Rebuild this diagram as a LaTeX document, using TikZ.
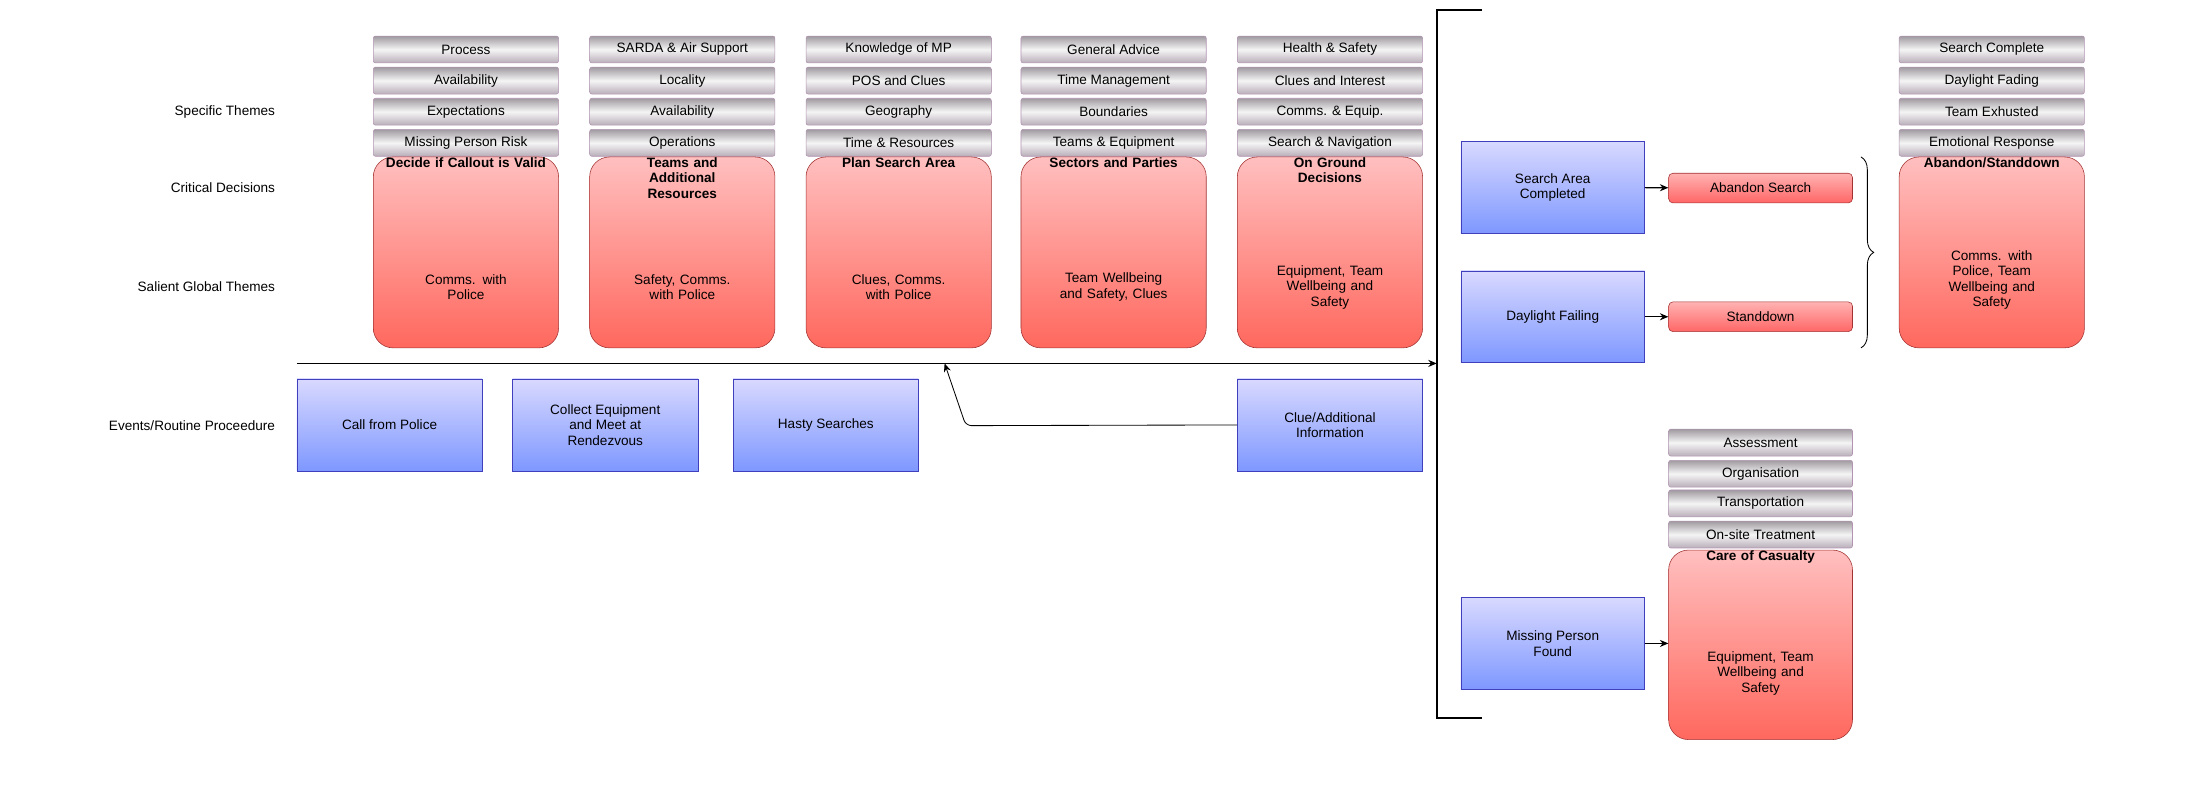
\documentclass[tikz,border=0pt]{standalone}
\usepackage{fontspec}
\setmainfont{Liberation Sans}
\usetikzlibrary{decorations.pathreplacing,arrows.meta}
\begin{document}
\begin{tikzpicture}[x=1pt,y=-1pt,
  font=\fontsize{9.6}{11}\selectfont,
  theme/.style={draw=gray!60!violet!60, rounded corners=1.5pt, minimum width=131pt, minimum height=19pt, inner sep=0pt,
    top color=white!85!violet!30!gray, bottom color=violet!15!gray!55, middle color=white!92!gray, shading angle=0},
  dec/.style={draw=red!55!black!80, rounded corners=14pt, minimum width=131pt, minimum height=135pt, inner sep=0pt,
    top color=red!25!white, bottom color=red!60!white!92!orange},
  sdec/.style={draw=red!55!black!80, rounded corners=3pt, minimum width=130pt, minimum height=21pt, inner sep=0pt,
    top color=red!30!white, bottom color=red!60!white},
  ev/.style={draw=blue!50!gray, minimum width=131pt, minimum height=65pt, inner sep=0pt, align=center,
    top color=blue!15!white, bottom color=blue!45!white!90!cyan},
  lbl/.style={anchor=east},
  ttl/.style={font=\fontsize{9.6}{11}\selectfont\bfseries, align=center, text width=128pt, anchor=north},
  bod/.style={align=center, text width=120pt},
  arr/.style={-{Stealth[length=6pt,width=5pt]}, line width=0.8pt}]
\useasboundingbox (0,0) rectangle (1560,564);
% left labels
\node[lbl] (l1) at (198,79) {Specific Themes};
\node[lbl] (l2) at (198,133) {Critical Decisions};
\node[lbl] (l3) at (198,203) {Salient Global Themes};
\node[lbl] (l4) at (198,301) {Events/Routine Proceedure};
% columns
\foreach \i/\x/\a/\b/\c/\d/\t/\s in {
 1/329.5/Process/Availability/Expectations/Missing Person Risk/{Decide if Callout is Valid}/{Comms. with\\Police},
 2/482.5/SARDA \& Air Support/Locality/Availability/Operations/{Teams and\\Additional\\Resources}/{Safety, Comms.\\with Police},
 3/635.5/Knowledge of MP/POS and Clues/Geography/Time \& Resources/{Plan Search Area}/{Clues, Comms.\\with Police},
 4/787.5/General Advice/Time Management/Boundaries/Teams \& Equipment/{Sectors and Parties}/{Team Wellbeing\\and Safety, Clues},
 5/940.5/Health \& Safety/Clues and Interest/Comms. \& Equip./Search \& Navigation/{On Ground\\Decisions}/{Equipment, Team\\Wellbeing and\\Safety}}{
 \node[theme] (t\i a) at (\x,35) {\a};
 \node[theme] (t\i b) at (\x,57) {\b};
 \node[theme] (t\i c) at (\x,79) {\c};
 \node[theme] (t\i d) at (\x,101) {\d};
 \node[dec] (d\i) at (\x,178.5) {};
 \node[ttl] (d\i t) at ([yshift=3pt]d\i.north) {\t};
 \node[bod] (d\i s) at (\x,203) {\s};
}
% events
\node[ev] (e1) at (275.5,300.5) {Call from Police};
\node[ev] (e2) at (428,300.5) {Collect Equipment\\and Meet at\\Rendezvous};
\node[ev] (e3) at (584,300.5) {Hasty Searches};
\node[ev] (e4) at (940.5,300.5) {Clue/Additional\\Information};
% timeline
\coordinate (ts) at (210,257);
\coordinate (te) at (1016,257);
\coordinate (tm) at (668,257);
\draw[arr, line width=0.9pt] (ts) -- (te);
\draw[arr, line width=0.6pt, rounded corners=4pt] (e4.west) -- (683,301) -- (tm);
% bracket
\coordinate (b1) at (1048,7);
\coordinate (b2) at (1016,7);
\coordinate (b3) at (1016,508);
\coordinate (b4) at (1048,508);
\draw[line width=1.4pt] (b1) -- (b2) -- (b3) -- (b4);
% right side
\node[ev, minimum height=65pt, minimum width=130pt] (f1) at (1098,132.5) {Search Area\\Completed};
\node[ev, minimum width=130pt] (f2) at (1098,224) {Daylight Failing};
\node[ev, minimum width=130pt] (f3) at (1098,455) {Missing Person\\Found};
\node[sdec] (s1) at (1245,133) {Abandon Search};
\node[sdec] (s2) at (1245,224) {Standdown};
\draw[arr] (f1) -- (s1);
\draw[arr] (f2) -- (s2);
\coordinate (br1) at (1316,111);
\coordinate (br2) at (1316,246);
\draw[line width=0.6pt, decorate, decoration={brace, amplitude=9pt}] (br1) -- (br2);
% abandon column
\node[theme] (t6a) at (1408.5,35) {Search Complete};
\node[theme] (t6b) at (1408.5,57) {Daylight Fading};
\node[theme] (t6c) at (1408.5,79) {Team Exhusted};
\node[theme] (t6d) at (1408.5,101) {Emotional Response};
\node[dec] (d6) at (1408.5,178.5) {};
\node[ttl] (d6t) at ([yshift=3pt]d6.north) {Abandon/Standdown};
\node[bod] (d6s) at (1408.5,198) {Comms. with\\Police, Team\\Wellbeing and\\Safety};
% casualty column
\node[theme, minimum width=130pt] (t7a) at (1245,313) {Assessment};
\node[theme, minimum width=130pt] (t7b) at (1245,335) {Organisation};
\node[theme, minimum width=130pt] (t7c) at (1245,356) {Transportation};
\node[theme, minimum width=130pt] (t7d) at (1245,378) {On-site Treatment};
\node[dec, minimum width=130pt, minimum height=134pt] (d7) at (1245,456) {};
\node[ttl] (d7t) at ([yshift=3pt]d7.north) {Care of Casualty};
\node[bod] (d7s) at (1245,476) {Equipment, Team\\Wellbeing and\\Safety};
\draw[arr] (f3) -- (d7.west |- f3);
\end{tikzpicture}
\end{document}
